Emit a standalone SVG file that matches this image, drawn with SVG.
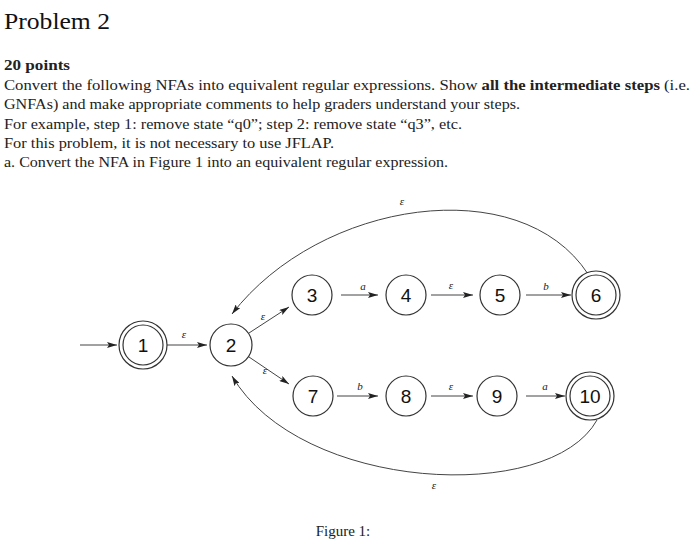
<svg xmlns="http://www.w3.org/2000/svg" width="700" height="546" viewBox="0 0 700 546">
<style>
.t{font-family:"Liberation Serif",serif;font-size:15px;fill:#222}
.n circle{fill:#fff;stroke:#333;stroke-width:1.2}
.n text{font-family:"Liberation Sans",sans-serif;font-size:19px;text-anchor:middle;fill:#111}
.c path{fill:none;stroke:#444;stroke-width:1}
.l{font-family:"Liberation Serif",serif;font-size:11px;font-style:italic;text-anchor:middle;fill:#222}
</style>
<defs><marker id="a" viewBox="0 0 10 6" refX="10" refY="3" markerWidth="10" markerHeight="6" orient="auto" markerUnits="userSpaceOnUse"><path d="M0,0L10,3L0,6L2,3z" fill="#222"/></marker></defs>
<rect width="700" height="546" fill="#fff"/>
<text x="4" y="29" textLength="106" lengthAdjust="spacingAndGlyphs" style="font-family:'Liberation Serif',serif;font-size:24px;fill:#111">Problem 2</text>
<text x="4" y="70" class="t" font-weight="bold" textLength="66" lengthAdjust="spacingAndGlyphs">20 points</text>
<text x="4" y="90" class="t" textLength="686" lengthAdjust="spacingAndGlyphs">Convert the following NFAs into equivalent regular expressions. Show <tspan font-weight="bold">all the intermediate steps</tspan> (i.e.</text>
<text x="4" y="109" class="t" textLength="516" lengthAdjust="spacingAndGlyphs">GNFAs) and make appropriate comments to help graders understand your steps.</text>
<text x="4" y="129" class="t" textLength="458" lengthAdjust="spacingAndGlyphs">For example, step 1: remove state “q0”; step 2: remove state “q3”, etc.</text>
<text x="4" y="148" class="t" textLength="330" lengthAdjust="spacingAndGlyphs">For this problem, it is not necessary to use JFLAP.</text>
<text x="4" y="167" class="t" textLength="444" lengthAdjust="spacingAndGlyphs">a. Convert the NFA in Figure 1 into an equivalent regular expression.</text>
<g class="c">
<path d="M80,345H117" marker-end="url(#a)"/>
<path d="M167,345H207" marker-end="url(#a)"/>
<path d="M249,333L289,307" marker-end="url(#a)"/>
<path d="M249,357L289,384" marker-end="url(#a)"/>
<path d="M341,295H378" marker-end="url(#a)"/>
<path d="M431,295H473" marker-end="url(#a)"/>
<path d="M526,295H571" marker-end="url(#a)"/>
<path d="M337,396H378" marker-end="url(#a)"/>
<path d="M431,396H473" marker-end="url(#a)"/>
<path d="M526,396H565" marker-end="url(#a)"/>
<path d="M588,274C520,170 320,200 232,314" marker-end="url(#a)"/>
<path d="M597,420C550,505 300,492 232,376" marker-end="url(#a)"/>
</g>
<text class="l" x="184" y="338">ε</text>
<text class="l" x="263" y="320">ε</text>
<text class="l" x="265" y="374">ε</text>
<text class="l" x="363" y="290">a</text>
<text class="l" x="451" y="289">ε</text>
<text class="l" x="546" y="290">b</text>
<text class="l" x="360" y="390">b</text>
<text class="l" x="451" y="390">ε</text>
<text class="l" x="545" y="390">a</text>
<text class="l" x="402" y="205">ε</text>
<text class="l" x="434" y="489">ε</text>
<g id="n1" class="n"><circle cx="143" cy="345" r="24"/><circle cx="143" cy="345" r="20"/><text x="143" y="352">1</text></g>
<g id="n2" class="n"><circle cx="231" cy="345" r="21"/><text x="231" y="352">2</text></g>
<g id="n3" class="n"><circle cx="312" cy="295" r="20"/><text x="312" y="302">3</text></g>
<g id="n4" class="n"><circle cx="406" cy="295" r="20"/><text x="406" y="302">4</text></g>
<g id="n5" class="n"><circle cx="500" cy="295" r="20"/><text x="500" y="302">5</text></g>
<g id="n6" class="n"><circle cx="596" cy="295" r="24"/><circle cx="596" cy="295" r="20"/><text x="596" y="302">6</text></g>
<g id="n7" class="n"><circle cx="313" cy="396" r="20"/><text x="313" y="403">7</text></g>
<g id="n8" class="n"><circle cx="406" cy="396" r="20"/><text x="406" y="403">8</text></g>
<g id="n9" class="n"><circle cx="497" cy="396" r="20"/><text x="497" y="403">9</text></g>
<g id="n10" class="n"><circle cx="590" cy="396" r="24"/><circle cx="590" cy="396" r="20"/><text x="590" y="403">10</text></g>
<text x="343" y="536" class="t" text-anchor="middle">Figure 1:</text>
</svg>
